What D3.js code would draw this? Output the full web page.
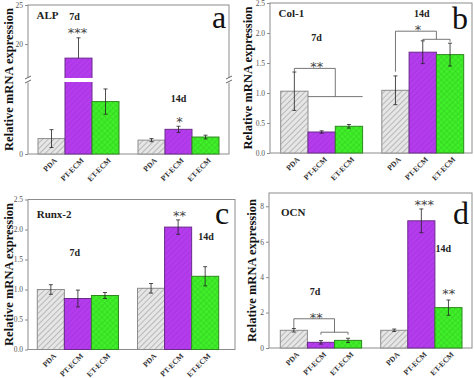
<!DOCTYPE html>
<meta charset="utf-8">
<style>
body { margin: 0; background: #fff; }
svg { display: block; font-family: "Liberation Serif", "DejaVu Serif", serif; }
.frame { fill: none; stroke: #8c8c8c; stroke-width: 1; }
.tick text { fill: #555; font-size: 7.5px; font-family: "Liberation Serif", serif; }
.tick line, .domain { stroke: #8c8c8c; }
.ylabel { font-weight: bold; font-size: 12.5px; fill: #111; }
.xlab { font-weight: bold; font-size: 7.6px; fill: #333; }
.err { stroke: #222; stroke-width: 0.8; fill: none; }
.brk { stroke: #555; stroke-width: 0.9; fill: none; }
.note { font-weight: bold; font-size: 10px; fill: #222; }
.star { font-size: 13px; fill: #444; font-family: "DejaVu Sans", sans-serif; }
.title { font-weight: bold; font-size: 11px; fill: #222; }
.letter { font-size: 32px; fill: #111; }
.bracket { stroke: #666; stroke-width: 0.9; fill: none; }
</style>
<svg width="474" height="378"></svg>
<script src="https://d3js.org/d3.v7.min.js"></script>
<script>

var groups = ["7d", "14d"];
var cats = ["PDA", "PT-ECM", "ET-ECM"];

// ALP (broken y axis)
var alpMean = [[1.0, 18.2, 3.4], [0.9, 1.6, 1.1]];
var alpErr  = [[0.58, 2.6, 0.82], [0.1, 0.2, 0.12]];
// Col-1
var colMean = [[1.03, 0.35, 0.445], [1.045, 1.68, 1.64]];
var colErr  = [[0.32, 0.02, 0.03], [0.24, 0.19, 0.19]];
// Runx-2
var runxMean = [[1.0, 0.85, 0.9], [1.02, 2.04, 1.22]];
var runxErr  = [[0.08, 0.14, 0.05], [0.08, 0.12, 0.16]];
// OCN
var ocnMean = [[1.0, 0.32, 0.43], [1.0, 7.18, 2.28]];
var ocnErr  = [[0.1, 0.1, 0.12], [0.07, 0.67, 0.43]];

var decTicks = [0, 0.5, 1.0, 1.5, 2.0, 2.5];
var ocnTicks = [0, 2, 4, 6, 8];

var svg = d3.select("svg");
var defs = svg.append("defs");

function pattern(id, bg, fg, cross) {
  var p = defs.append("pattern").attr("id", id)
      .attr("patternUnits", "userSpaceOnUse")
      .attr("width", 4).attr("height", 4)
      .attr("patternTransform", "rotate(45)");
  p.append("rect").attr("width", 4).attr("height", 4).attr("fill", bg);
  p.append("line").attr("x1", 0).attr("y1", 0).attr("x2", 0).attr("y2", 4)
      .attr("stroke", fg).attr("stroke-width", 1.2);
  if (cross) p.append("line").attr("x1", 0).attr("y1", 0).attr("x2", 4).attr("y2", 0)
      .attr("stroke", fg).attr("stroke-width", 1);
}
pattern("pda", "#e6e6e6", "#9a9a9a", false);
pattern("pt", "#b43ced", "#a02fdc", false);
pattern("et", "#40ee2a", "#33d11f", true);

var fills = {"PDA": "url(#pda)", "PT-ECM": "url(#pt)", "ET-ECM": "url(#et)"};
var strokes = {"PDA": "#8c8c8c", "PT-ECM": "#6b2a8c", "ET-ECM": "#2e8a1e"};

function panel(p) {
  var g = svg.append("g");
  var x = d3.scaleBand().domain(groups)
      .range([p.left + p.pl, p.right - p.pr]).paddingInner(0.19);
  var xi = d3.scaleBand().domain(cats).range([0, x.bandwidth()]);
  var y = p.y;
  var cx = function(gr, c) { return x(gr) + xi(c) + xi.bandwidth() / 2; };

  var rows = [];
  groups.forEach(function(gr, gi) {
    cats.forEach(function(c, ci) {
      rows.push({g: gr, c: c, v: p.mean[gi][ci], e: p.err[gi][ci]});
    });
  });

  g.append("rect").attr("class", "frame")
      .attr("x", p.left).attr("y", p.top)
      .attr("width", p.right - p.left).attr("height", p.bottom - p.top);

  g.selectAll("rect.bar").data(rows).join("rect")
      .attr("class", "bar")
      .attr("x", function(d) { return x(d.g) + xi(d.c); })
      .attr("y", function(d) { return y(d.v); })
      .attr("width", xi.bandwidth())
      .attr("height", function(d) { return p.bottom - y(d.v); })
      .attr("fill", function(d) { return fills[d.c]; })
      .attr("stroke", function(d) { return strokes[d.c]; })
      .attr("stroke-width", 1);

  // error bars (broken bars only get the upper whisker)
  var eb = g.selectAll("g.eb").data(rows).join("g").attr("class", "err");
  eb.append("line")
      .attr("x1", function(d) { return cx(d.g, d.c); })
      .attr("x2", function(d) { return cx(d.g, d.c); })
      .attr("y1", function(d) { return y(d.v + d.e); })
      .attr("y2", function(d) { return p.brk && d.v > p.brk.max ? y(d.v) : y(d.v - d.e); });
  eb.append("line")
      .attr("x1", function(d) { return cx(d.g, d.c) - 2; })
      .attr("x2", function(d) { return cx(d.g, d.c) + 2; })
      .attr("y1", function(d) { return y(d.v + d.e); })
      .attr("y2", function(d) { return y(d.v + d.e); });
  eb.filter(function(d) { return !(p.brk && d.v > p.brk.max); }).append("line")
      .attr("x1", function(d) { return cx(d.g, d.c) - 2; })
      .attr("x2", function(d) { return cx(d.g, d.c) + 2; })
      .attr("y1", function(d) { return y(d.v - d.e); })
      .attr("y2", function(d) { return y(d.v - d.e); });

  // axes
  p.axes.forEach(function(a) {
    g.append("g").attr("transform", "translate(" + p.left + ",0)")
        .call(d3.axisLeft(a.scale).tickValues(a.ticks).tickSize(3).tickPadding(2)
          .tickFormat(a.fmt))
        .call(function(s) { s.select(".domain").remove(); });
  });

  // broken axis
  if (p.brk) {
    var by = p.brk.y;
    rows.filter(function(d) { return d.v > p.brk.max; }).forEach(function(d) {
      g.append("rect").attr("x", x(d.g) + xi(d.c) - 1).attr("y", by - 2)
          .attr("width", xi.bandwidth() + 2).attr("height", 4).attr("fill", "#fff");
    });
    [p.left, p.right].forEach(function(ax) {
      g.append("rect").attr("x", ax - 2).attr("y", by - 2.5).attr("width", 4).attr("height", 5).attr("fill", "#fff");
      g.append("line").attr("class", "brk").attr("x1", ax - 3).attr("y1", by - 1).attr("x2", ax + 3).attr("y2", by - 4);
      g.append("line").attr("class", "brk").attr("x1", ax - 3).attr("y1", by + 3).attr("x2", ax + 3).attr("y2", by);
    });
  }

  // x labels
  rows.forEach(function(d) {
    var tx = cx(d.g, d.c) + 4, ty = p.bottom + 5;
    g.append("text").attr("class", "xlab")
        .attr("text-anchor", "end")
        .attr("transform", "translate(" + tx + "," + ty + ") rotate(-45)")
        .attr("dy", "0.35em")
        .text(d.c);
  });

  // y label
  g.append("text").attr("class", "ylabel")
      .attr("text-anchor", "middle")
      .attr("transform", "translate(" + p.ylx + "," + (p.top + p.bottom) / 2 + ") rotate(-90)")
      .attr("dy", "0.35em")
      .text("Relative mRNA expression");

  g.append("text").attr("class", "title")
      .attr("x", p.left + p.title[1]).attr("y", p.top + p.title[2])
      .attr("dy", "0.35em").text(p.title[0]);

  g.append("text").attr("class", "letter")
      .attr("text-anchor", "middle")
      .attr("x", p.right + p.letter[1]).attr("y", p.top + p.letter[2])
      .attr("dy", "0.35em").text(p.letter[0]);

  // notes: [text, group, x offset, value, kind]
  p.notes.forEach(function(n) {
    var star = n[4] === "star";
    g.append("text").attr("class", star ? "star" : "note")
        .attr("text-anchor", "middle")
        .attr("x", x(n[1]) + x.bandwidth() / 2 + n[2])
        .attr("y", y(n[3]))
        .attr("dy", star ? "0.62em" : "0.35em")
        .text(n[0]);
  });

  // brackets: [group, top, left leg end, lower level, lower span, label]
  (p.brackets || []).forEach(function(b) {
    var x0 = cx(b[0], "PDA");
    var xm = x(b[0]) + xi("ET-ECM");
    var yt = y(b[1]), yl = y(b[2]), yb = y(b[3]);
    g.append("path").attr("class", "bracket")
        .attr("d", "M" + x0 + "," + yl + "V" + yt + "H" + xm + "V" + yb);
    var lx0, lx1;
    if (b[4] === "edges") {
      lx0 = x(b[0]) + xi("PT-ECM"); lx1 = x(b[0]) + x.bandwidth();
      g.append("path").attr("class", "bracket").attr("d", "M" + lx0 + "," + yb + "H" + lx1);
    } else {
      lx0 = cx(b[0], "PT-ECM"); lx1 = cx(b[0], "ET-ECM");
      g.append("path").attr("class", "bracket")
          .attr("d", "M" + lx0 + "," + (yb + 2.5) + "V" + yb + "H" + lx1 + "V" + (yb + 2.5));
    }
    g.append("text").attr("class", "star")
        .attr("text-anchor", "middle")
        .attr("x", (x0 + xm) / 2 + 2).attr("y", yt - 5)
        .attr("dy", "0.62em").text(b[5]);
  });
}

// panel a: broken axis
var alpLow = d3.scaleLinear().domain([0, 4.8]).range([154, 80]);
var alpHigh = d3.scaleLinear().domain([15.4, 25]).range([80, 5]);
function alpY(v) { return v <= 4.8 ? alpLow(v) : alpHigh(v); }

panel({
  left: 28, right: 229, top: 5, bottom: 154, pl: 10, pr: 10,
  y: alpY, mean: alpMean, err: alpErr,
  axes: [{scale: alpLow, ticks: [0], fmt: d3.format("d")},
         {scale: alpHigh, ticks: [20, 25], fmt: d3.format("d")}],
  brk: {max: 4.8, y: 80},
  ylx: 9, title: ["ALP", 8.5, 10.5], letter: ["a", -10, 12],
  notes: [["7d", "7d", -4, 23.5, "note"], ["***", "7d", -1, 21.9, "star"],
          ["14d", "14d", 0, 3.62, "note"], ["*", "14d", 1, 2.35, "star"]]
});

var colY = d3.scaleLinear().domain([0, 2.5]).range([153, 3]);
panel({
  left: 270, right: 472, top: 3, bottom: 153, pl: 10.7, pr: 8.3,
  y: colY, mean: colMean, err: colErr,
  axes: [{scale: colY, ticks: decTicks, fmt: d3.format(".1f")}],
  ylx: 248, title: ["Col-1", 8.5, 10.5], letter: ["b", -12, 15],
  notes: [["7d", "7d", -5, 1.92, "note"], ["14d", "14d", -1, 2.33, "note"]],
  brackets: [["7d", 1.41, 1.35, 0.94, "edges", "**"],
             ["14d", 2.03, 1.355, 1.895, "centers", "*"]]
});

var runxY = d3.scaleLinear().domain([0, 2.5]).range([349.5, 199.5]);
panel({
  left: 28, right: 235, top: 199.5, bottom: 349.5, pl: 9.3, pr: 16.3,
  y: runxY, mean: runxMean, err: runxErr,
  axes: [{scale: runxY, ticks: decTicks, fmt: d3.format(".1f")}],
  ylx: 9, title: ["Runx-2", 8.7, 14.5], letter: ["c", -13, 13],
  notes: [["7d", "7d", -3, 1.61, "note"], ["14d", "14d", 28, 1.88, "note"],
          ["**", "14d", 1.5, 2.3, "star"]]
});

var ocnY = d3.scaleLinear().domain([0, 8.75]).range([348, 193]);
panel({
  left: 269, right: 472, top: 193, bottom: 348, pl: 11.3, pr: 10,
  y: ocnY, mean: ocnMean, err: ocnErr,
  axes: [{scale: ocnY, ticks: ocnTicks, fmt: d3.format("d")}],
  ylx: 252, title: ["OCN", 12, 19], letter: ["d", -11, 20],
  notes: [["7d", "7d", -6, 3.18, "note"], ["14d", "14d", 22, 5.6, "note"],
          ["***", "14d", 3, 8.3, "star"], ["**", "14d", 27.5, 3.3, "star"]],
  brackets: [["7d", 1.65, 1.13, 0.89, "centers", "**"]]
});

</script>
